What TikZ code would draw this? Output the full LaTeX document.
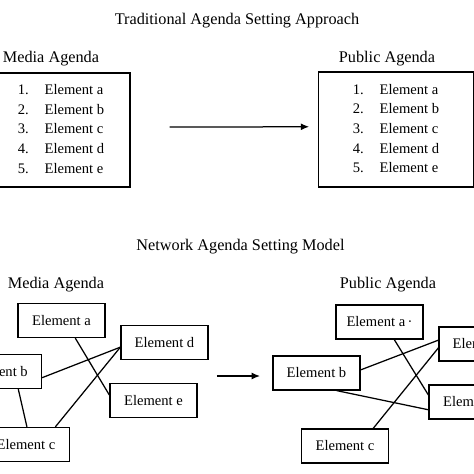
\documentclass[tikz,border=0pt]{standalone}
\usepackage{fontspec}
\setmainfont{Liberation Serif}
\usetikzlibrary{arrows.meta}
\begin{document}
\begin{tikzpicture}[x=0.72pt,y=-0.72pt]
        \tikzstyle{element}=[rectangle,draw=black,line width=0.9pt,minimum width=62.6pt,minimum height=24.5pt,inner sep=0pt,font=\fontsize{10.5}{12}\selectfont]
        \tikzstyle{agenda}=[rectangle,draw=black,line width=0.9pt,inner sep=0pt,font=\fontsize{10.5}{14.2}\selectfont]
        \tikzstyle{heading}=[inner sep=0pt,font=\fontsize{11.7}{14}\selectfont]
        \tikzstyle{edge}=[draw,line width=0.9pt]
        \tikzstyle{flow}=[-{Latex[length=6pt,width=5pt]}]
        \clip (0,0) rectangle (474,474);
       \begin{scope}
         \node [heading] (title1) at (237,21) {Traditional Agenda Setting Approach};
         \node [heading] (medialabel1) at (51,59) {Media Agenda};
         \node [heading] (publiclabel1) at (387,59) {Public Agenda};
         \node [agenda,minimum width=99.4pt,minimum height=82pt] (media) at (61,130)
           {\begin{tabular}{@{}r@{\hspace{11.5pt}}l@{}}1. & Element a\\ 2. & Element b\\ 3. & Element c\\ 4. & Element d\\ 5. & Element e\end{tabular}};
         \node [agenda,minimum width=111.2pt,minimum height=82.8pt] (public) at (396,129.5)
           {\begin{tabular}{@{}r@{\hspace{11.5pt}}l@{}}1. & Element a\\ 2. & Element b\\ 3. & Element c\\ 4. & Element d\\ 5. & Element e\end{tabular}};
         \path[edge,flow,shorten <=28pt,shorten >=6.5pt] ([yshift=2pt]media.east) -- ([yshift=2pt]public.west);
        \end{scope}
       \begin{scope}
         \node [heading] (title2) at (240.5,247) {Network Agenda Setting Model};
         \node [heading] (medialabel2) at (56,285) {Media Agenda};
         \node [heading] (publiclabel2) at (388,285) {Public Agenda};
         \node [element] (a1) at (61.5,320.5) {Element a};
         \node [element] (d1) at (164.5,342.5) {Element d};
         \node [element] (b1) at (-2,371.5) {Element b};
         \node [element] (e1) at (153.5,400.5) {Element e};
         \node [element] (c1) at (26,444.5) {Element c};
         \path[edge] (a1.-52) -- (e1.173);
         \path[edge] (b1.-8) -- (d1.-174);
         \path[edge] (c1.31) -- (d1.-174);
         \path[edge] (b1.-41) -- (c1.87);
         \coordinate (arrS) at (217,376);
         \coordinate (arrE) at (260,376);
         \path[edge,flow] (arrS) -- (arrE);
         \node [element] (a2) at (379.5,322) {Element a\,·};
         \node [element] (d2) at (482.5,344) {Element d};
         \node [element] (b2) at (316.5,373) {Element b};
         \node [element] (e2) at (472.5,402) {Element e};
         \node [element] (c2) at (345,446) {Element c};
         \path[edge] (a2.-50) -- (e2.171);
         \path[edge] (b2.4) -- (d2.175);
         \path[edge] (c2.32) -- (d2.-175);
         \path[edge] (b2.-41) -- (e2.-170);
        \end{scope}
      \end{tikzpicture}
\end{document}
